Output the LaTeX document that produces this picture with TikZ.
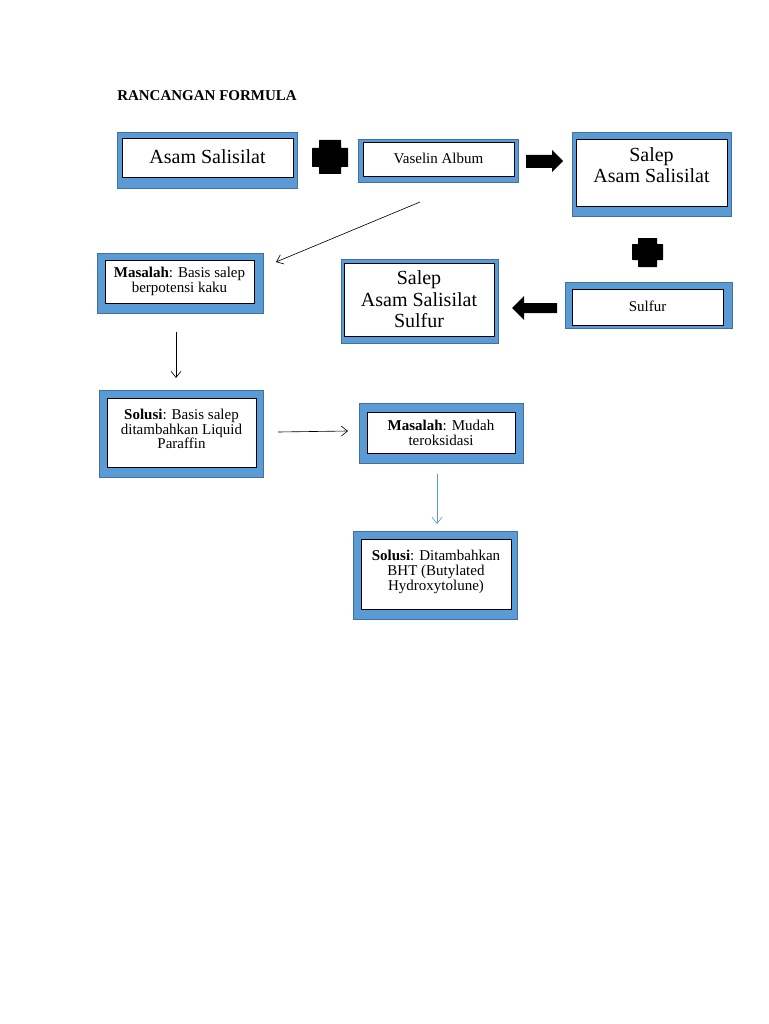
\documentclass[tikz,border=0pt]{standalone}
\usepackage{fontspec}
\setmainfont{Liberation Serif}
\usepackage{tikz}
\usetikzlibrary{arrows.meta,positioning,calc}

\definecolor{rangkablue}{HTML}{5B9BD5}
\definecolor{rangkaedge}{HTML}{41719C}
\newdimen\pxu \pxu=0.8pt

\tikzset{
  frame/.style={fill=rangkablue,draw=rangkaedge,line width=0.5pt},
  isi/.style={draw=black,fill=white,line width=0.8pt,align=center,inner sep=0pt,
    font=\fontsize{12}{11.8}\selectfont},
  isibesar/.style={isi,font=\fontsize{16}{17.3}\selectfont},
  panah/.style={-{Straight Barb[length=5pt,width=8pt]},line width=0.5pt},
  blok/.style={fill=black,rounded corners=0.4pt}
}

\begin{document}
\begin{tikzpicture}[x=0.8pt,y=-0.8pt]
  \useasboundingbox[fill=white] (0,0) rectangle (768,1024);

  \node[anchor=west,inner sep=0pt,font=\fontsize{12}{14}\selectfont\bfseries] (judul) at (117,96) {RANCANGAN FORMULA};

  % bingkai biru
  \draw[frame] (117,132) rectangle (297,188);
  \draw[frame] (358,139) rectangle (518,182);
  \draw[frame] (572,132) rectangle (731,216);
  \draw[frame] (97,253) rectangle (263,313);
  \draw[frame] (341,259) rectangle (498,343);
  \draw[frame] (565,282) rectangle (732,328);
  \draw[frame] (99,390) rectangle (263,477);
  \draw[frame] (359,403) rectangle (523,463);
  \draw[frame] (353,531) rectangle (517,619);

  % kotak isi
  \node[isibesar,minimum width=171\pxu,minimum height=39\pxu] (asam) at (207.5,158.5) {Asam Salisilat\vphantom{p}};
  \node[isi,minimum width=151\pxu,minimum height=34\pxu] (vaselin) at (438.5,160) {\raisebox{2.5pt}{Vaselin Album}};
  \node[isibesar,minimum width=151\pxu,minimum height=67\pxu] (salep) at (651.5,173.5) {Salep\\Asam Salisilat\\[-4pt]\mbox{}};
  \node[isi,minimum width=149\pxu,minimum height=43\pxu] (masalahA) at (179.5,281.5) {\textbf{Masalah}: Basis salep\\berpotensi kaku};
  \node[isibesar,minimum width=150\pxu,minimum height=73\pxu] (salepsulfur) at (419,299.5) {Salep\\Asam Salisilat\\Sulfur};
  \node[isi,minimum width=151\pxu,minimum height=36\pxu] (sulfur) at (647.5,307) {\raisebox{2pt}{Sulfur}};
  \node[isi,minimum width=149\pxu,minimum height=69\pxu] (solusiA) at (181.5,432.5) {\textbf{Solusi}: Basis salep\\ditambahkan Liquid\\Paraffin\\[-6pt]\mbox{}};
  \node[isi,minimum width=148\pxu,minimum height=41\pxu] (masalahB) at (441,432.5) {\textbf{Masalah}: Mudah\\teroksidasi};
  \node[isi,minimum width=150\pxu,minimum height=70\pxu] (solusiB) at (436,574) {\textbf{Solusi}: Ditambahkan\\BHT (Butylated\\Hydroxytolune)\\[-6pt]\mbox{}};

  % tanda tambah dan panah blok
  \fill[blok] (319,140) -- (341,140) -- (341,148) -- (348,148) -- (348,167) -- (341,167)
    -- (341,174) -- (319,174) -- (319,167) -- (312,167) -- (312,148) -- (319,148) -- cycle;
  \fill[blok] (638,238) -- (657,238) -- (657,244) -- (663,244) -- (663,260) -- (657,260)
    -- (657,267) -- (638,267) -- (638,260) -- (632,260) -- (632,244) -- (638,244) -- cycle;
  \fill[black] (526,155) -- (552,155) -- (552,150) -- (563,161) -- (552,172) -- (552,168) -- (526,168) -- cycle;
  \fill[black] (557,303) -- (524,303) -- (524,296) -- (512,308) -- (524,320) -- (524,313) -- (557,313) -- cycle;

  % panah tipis
  \coordinate (d1) at (420,202);
  \coordinate (d2) at (276,262);
  \coordinate (t1) at (176,332);
  \coordinate (t2) at (176,378);
  \coordinate (k1) at (278,432);
  \coordinate (k2) at (348,431);
  \coordinate (b1) at (437,474);
  \coordinate (b2) at (437,524);
  \draw[panah] (d1) -- (d2);
  \draw[panah] (t1) -- (t2);
  \draw[panah] (k1) -- (k2);
  \draw[panah,rangkablue] (b1) -- (b2);
\end{tikzpicture}
\end{document}
